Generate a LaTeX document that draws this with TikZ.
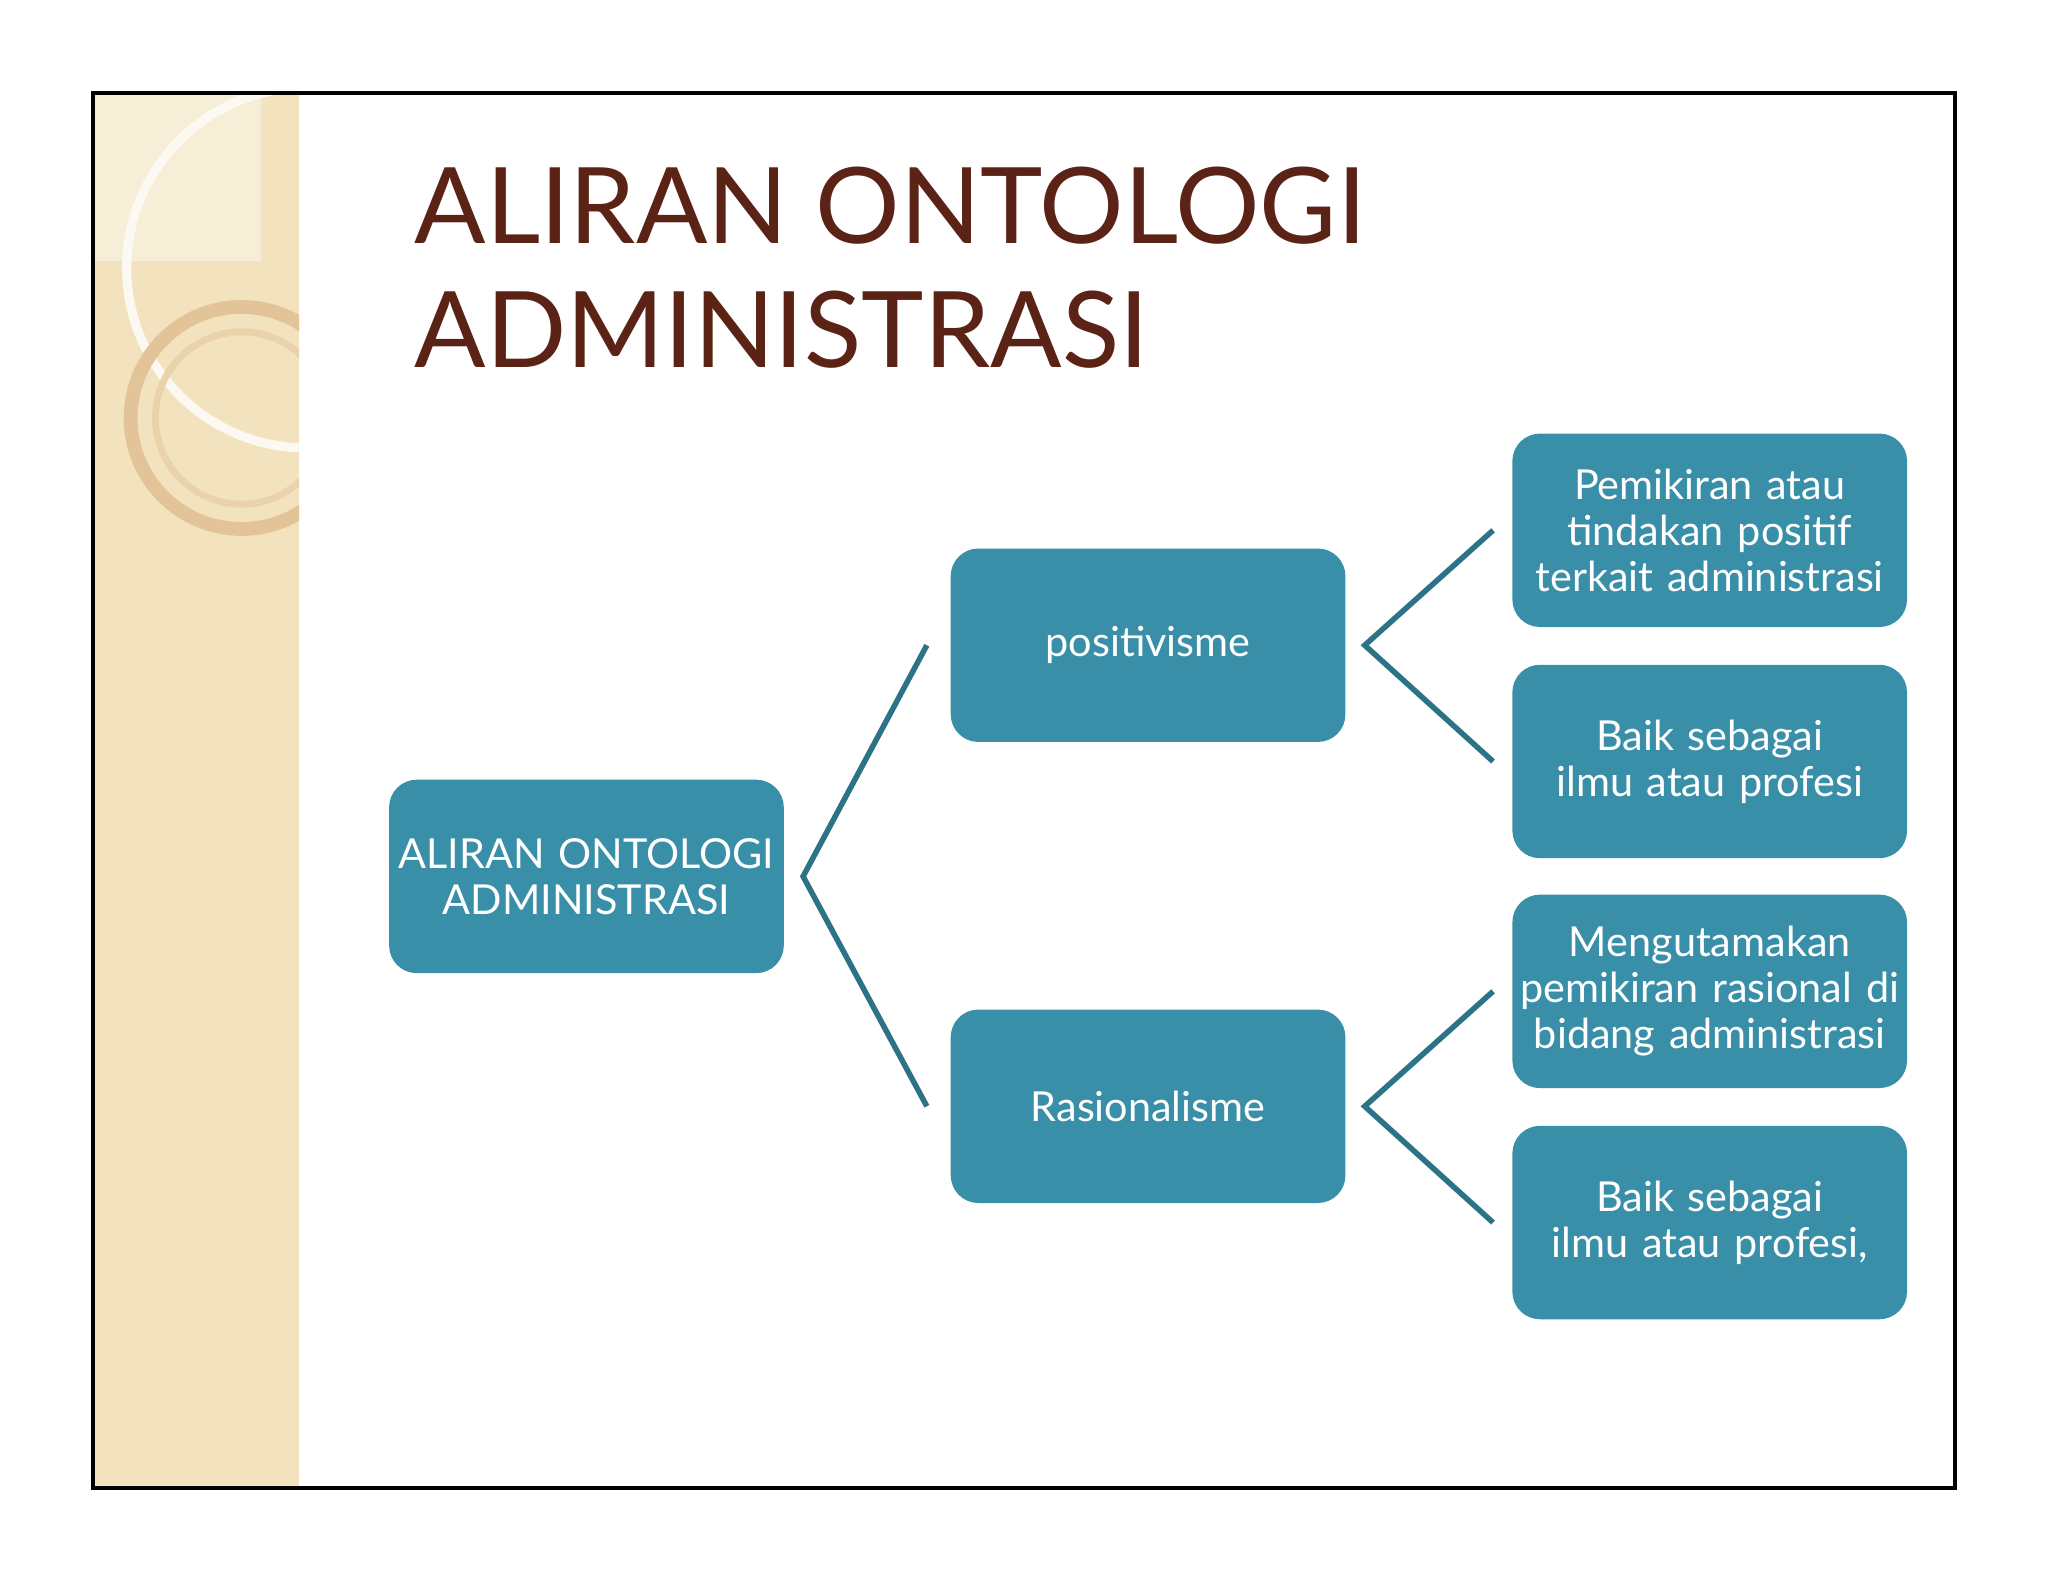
\documentclass[tikz,border=0pt]{standalone}
\usepackage{fontspec}
\setmainfont{Lato}
\begin{document}
\begin{tikzpicture}[x=0.01cm,y=-0.01cm,
  bx/.style={fill=boxc,rounded corners=6pt,minimum width=3.02cm,minimum height=1.48cm,text width=2.9cm,align=center,text=white,font=\fontsize{9}{10}\selectfont,inner sep=1pt},
  ln/.style={draw=linec,line width=1.2pt}]
\definecolor{boxc}{RGB}{58,143,168}
\definecolor{linec}{RGB}{45,115,136}
\definecolor{titc}{RGB}{90,35,21}
\definecolor{beige}{RGB}{242,226,190}
\useasboundingbox (0,0) rectangle (1568,1211);
\fill[white] (0,0) rectangle (1568,1211);
\fill[beige] (71,71) rectangle (229,1139);
\fill[beige!60!white] (71,71) rectangle (200,200);
\begin{scope}
\clip (71,71) rectangle (229,1139);
\draw[white!80!beige,line width=2pt] (235,205) circle (138);
\draw[beige!70!brown,line width=3pt] (185,320) circle (85);
\draw[beige!85!brown,line width=1.5pt] (185,320) circle (66);
\end{scope}
\draw[black,line width=0.8pt] (71,71) rectangle (1497,1139);
\node[anchor=west,text=titc,font=\fontsize{23}{27}\selectfont,align=left] (title) at (305,205) {ALIRAN ONTOLOGI\\ADMINISTRASI};
\node[bx] (root) at (449,671) {ALIRAN ONTOLOGI ADMINISTRASI};
\node[bx] (pos) at (879,494) {positivisme};
\node[bx] (ras) at (879,847) {Rasionalisme};
\node[bx] (a) at (1309,406) {Pemikiran atau tindakan positif terkait administrasi};
\node[bx] (b) at (1309,583) {Baik sebagai ilmu atau profesi};
\node[bx] (c) at (1309,759) {Mengutamakan pemikiran rasional di bidang administrasi};
\node[bx] (d) at (1309,936) {Baik sebagai ilmu atau profesi,};
\coordinate (r0) at ([xshift=4]root.east);
\coordinate (p0) at ([xshift=4]pos.east);
\coordinate (q0) at ([xshift=4]ras.east);
\draw[ln] ([xshift=-5]pos.west) -- (r0) -- ([xshift=-5]ras.west);
\draw[ln] ([xshift=-4]a.west) -- (p0) -- ([xshift=-4]b.west);
\draw[ln] ([xshift=-4]c.west) -- (q0) -- ([xshift=-4]d.west);
\end{tikzpicture}
\end{document}
